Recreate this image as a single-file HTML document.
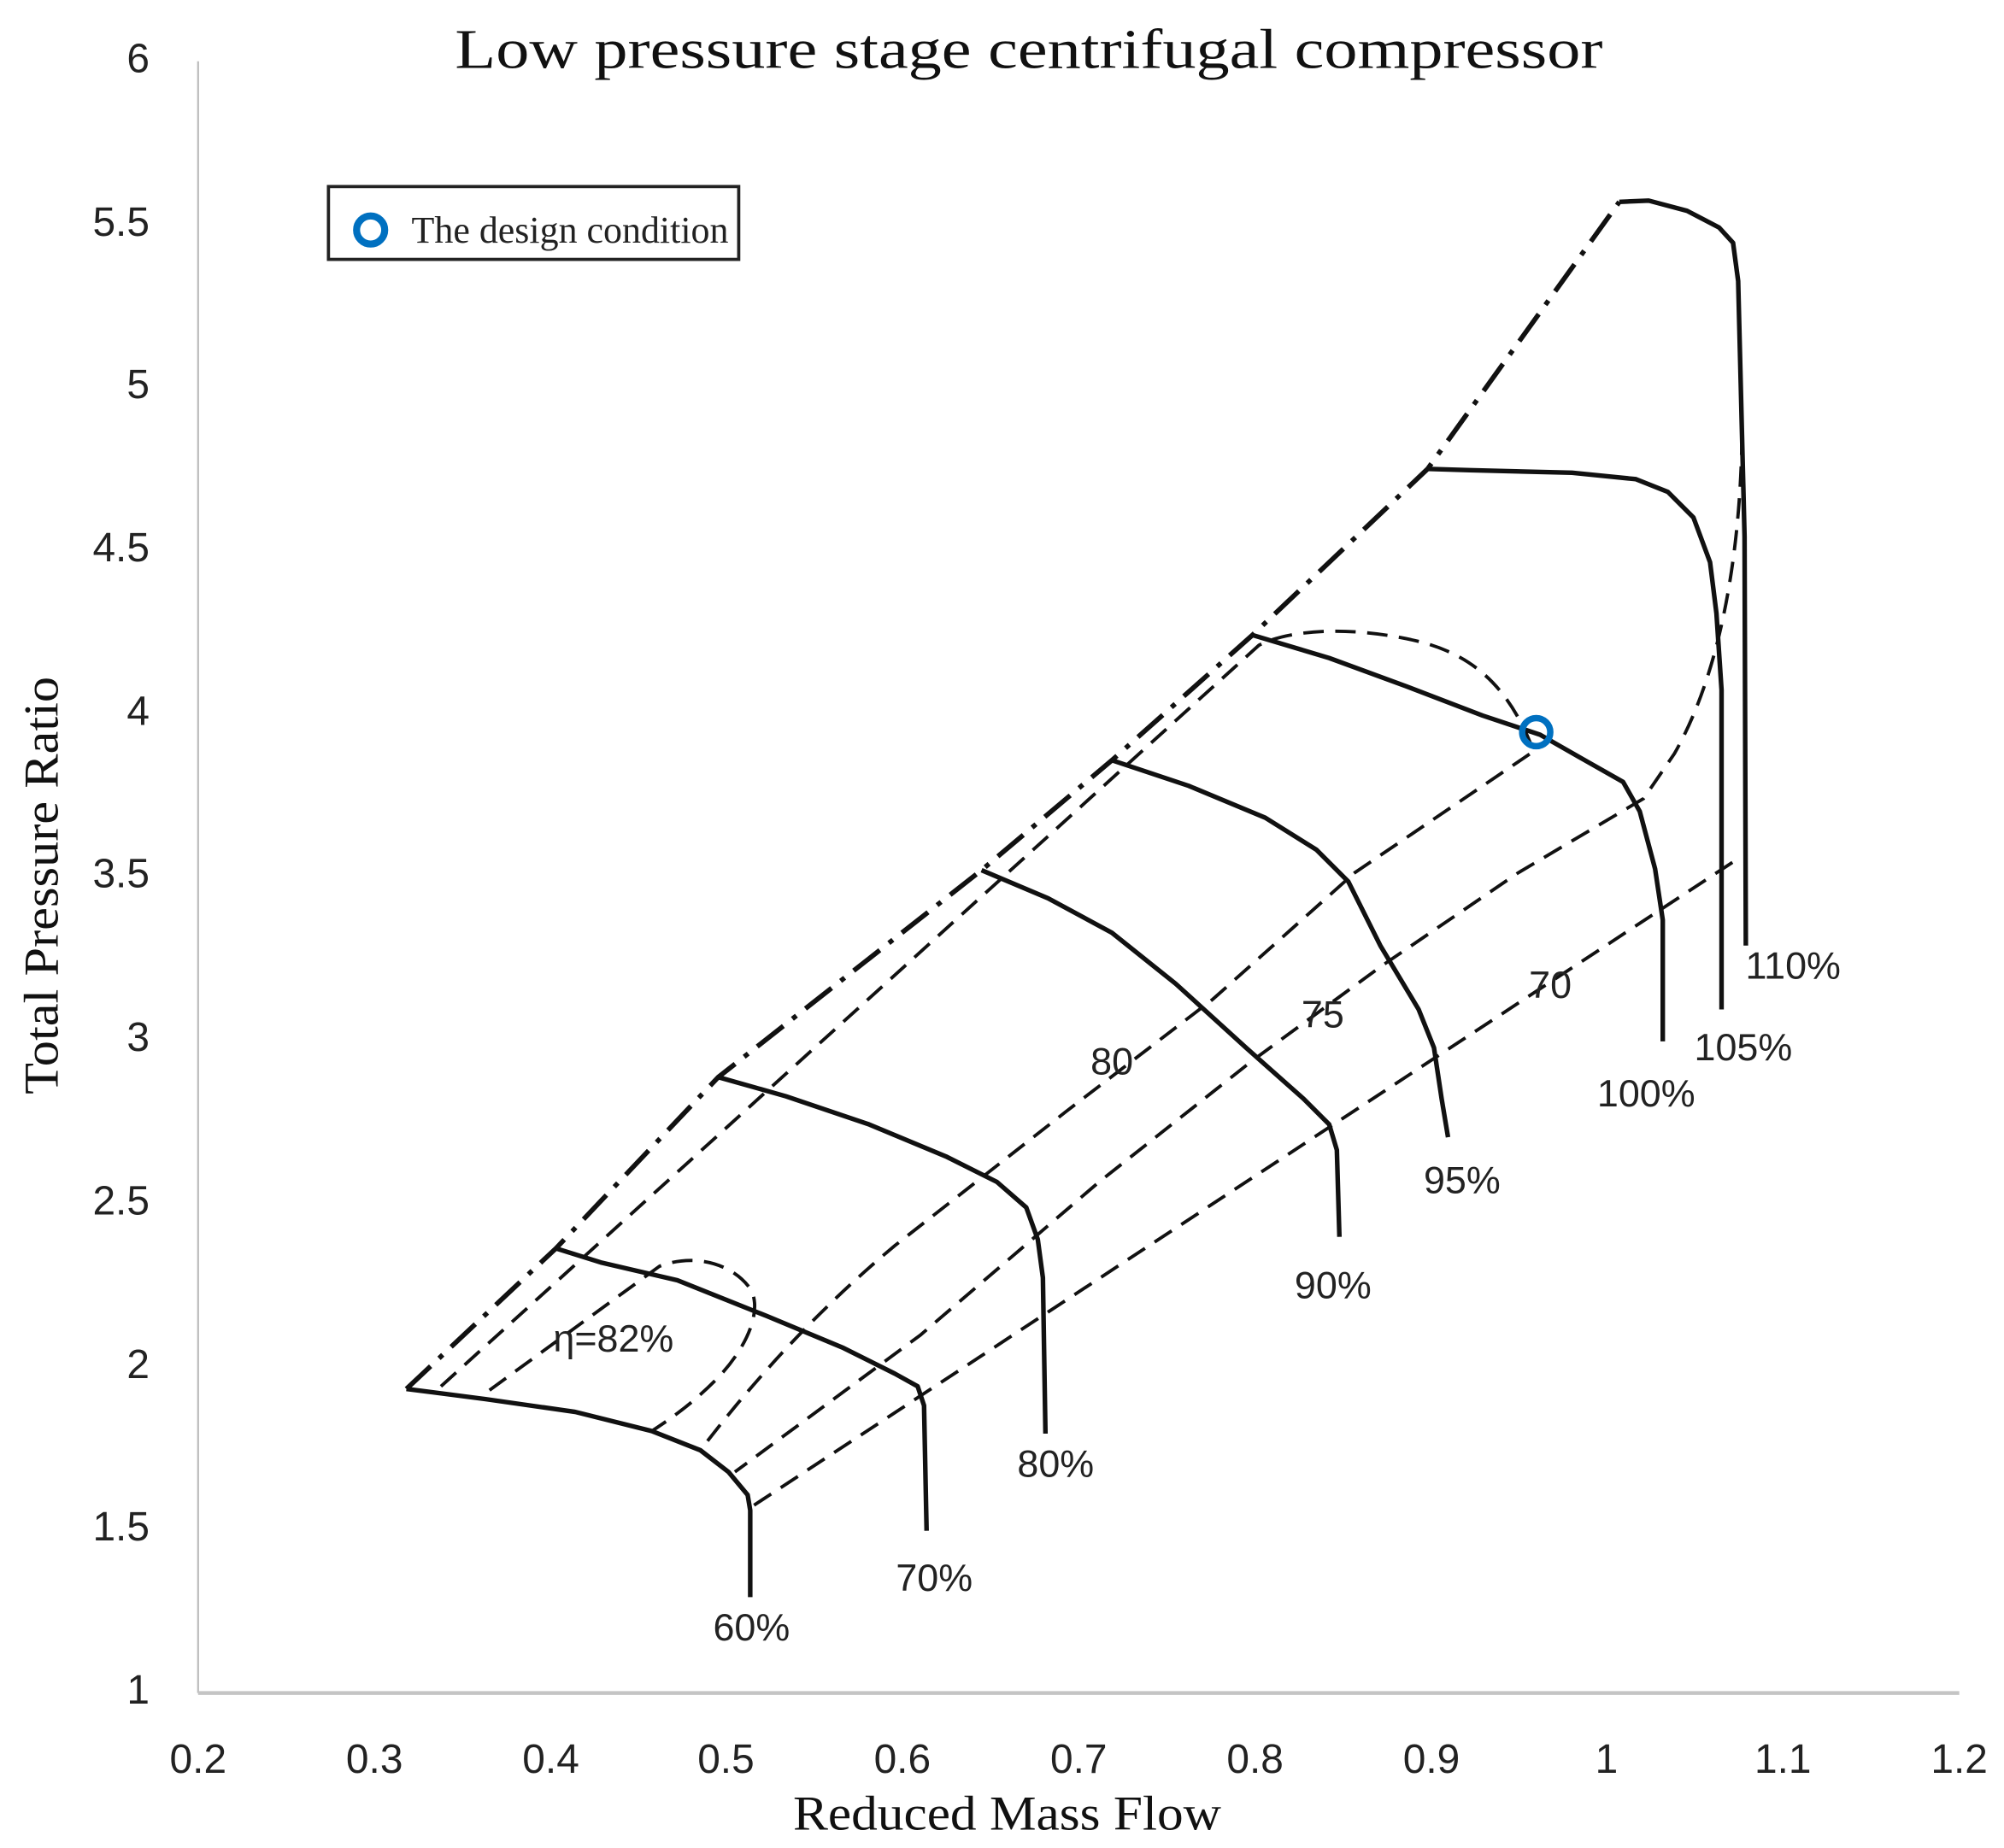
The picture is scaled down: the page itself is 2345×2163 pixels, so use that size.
<!DOCTYPE html>
<html><head><meta charset="utf-8"><style>
html,body{margin:0;padding:0;background:#fff;}
svg{display:block;}
</style></head><body>
<svg width="2345" height="2163" viewBox="0 0 1568 1446.3" preserveAspectRatio="none" xmlns="http://www.w3.org/2000/svg">
<rect x="0" y="0" width="1568" height="1447" fill="#fff"/>
<!-- axes -->
<line x1="155" y1="48" x2="155" y2="1325" stroke="#bdbdbd" stroke-width="1.5"/>
<line x1="155" y1="1325" x2="1533" y2="1325" stroke="#c4c4c4" stroke-width="3"/>
<!-- title -->
<text x="805" y="53" font-family="Liberation Serif, serif" font-size="44" fill="#111" text-anchor="middle" textLength="898" lengthAdjust="spacingAndGlyphs">Low pressure stage centrifugal compressor</text>
<!-- y ticks -->
<g font-family="Liberation Sans, sans-serif" font-size="32" fill="#222" text-anchor="end" dominant-baseline="middle">
<text x="117" y="48">6</text><text x="117" y="176">5.5</text><text x="117" y="303">5</text><text x="117" y="431">4.5</text><text x="117" y="559">4</text><text x="117" y="686">3.5</text><text x="117" y="814">3</text><text x="117" y="942">2.5</text><text x="117" y="1070">2</text><text x="117" y="1197">1.5</text><text x="117" y="1325">1</text>
</g>
<g font-family="Liberation Sans, sans-serif" font-size="32" fill="#222" text-anchor="middle" dominant-baseline="middle">
<text x="155" y="1379">0.2</text><text x="293" y="1379">0.3</text><text x="431" y="1379">0.4</text><text x="568" y="1379">0.5</text><text x="706" y="1379">0.6</text><text x="844" y="1379">0.7</text><text x="982" y="1379">0.8</text><text x="1120" y="1379">0.9</text><text x="1257" y="1379">1</text><text x="1395" y="1379">1.1</text><text x="1533" y="1379">1.2</text>
</g>
<text x="788" y="1432" font-family="Liberation Serif, serif" font-size="38" fill="#111" text-anchor="middle" textLength="335" lengthAdjust="spacingAndGlyphs">Reduced Mass Flow</text>
<text transform="translate(45,693) rotate(-90)" font-family="Liberation Serif, serif" font-size="38" fill="#111" text-anchor="middle" textLength="327" lengthAdjust="spacingAndGlyphs">Total Pressure Ratio</text>
<!-- legend -->
<rect x="257" y="146" width="321" height="57" fill="#fff" stroke="#222" stroke-width="2.5"/>
<circle cx="290" cy="180" r="11" fill="none" stroke="#0070c0" stroke-width="5.5"/>
<text x="322" y="190" font-family="Liberation Serif, serif" font-size="30" fill="#222" textLength="248" lengthAdjust="spacingAndGlyphs">The design condition</text>
<!-- surge line -->
<polyline fill="none" stroke="#111" stroke-width="3.8" stroke-dasharray="26 9 4 9" points="318,1087 435,977 562,843 768,681 870,595 980,497 1117,367 1267,158"/>
<!-- efficiency dashed lines -->
<g fill="none" stroke="#111" stroke-width="2.6" stroke-dasharray="16 9">
<path d="M345,1085 L985,505 C1010,492 1060,490 1110,502 C1150,512 1180,535 1200,588 L1060,683 L949,782 L834,870 L700,975 C640,1025 590,1080 548,1135"/>
<path d="M383,1088 L516,991 C545,980 575,990 588,1010 C597,1030 580,1060 560,1080 C540,1100 525,1110 510,1120"/>
<path d="M1363,340 C1362,420 1350,520 1310,590 L1286,625 L1188,683 L1081,756 L980,830 L860,925 L720,1045 L575,1152"/>
<path d="M590,1178 L1360,672"/>
</g>
<!-- speed lines -->
<g fill="none" stroke="#111" stroke-width="3.6" stroke-linejoin="round">
<polyline points="318,1087 380,1095 450,1105 510,1120 548,1135 570,1152 585,1170 587,1182 587,1250"/>
<polyline points="435,977 470,988 530,1002 600,1030 660,1055 700,1075 718,1085 723,1100 725,1198"/>
<polyline points="562,843 615,858 680,880 740,905 780,925 803,945 812,970 816,1000 818,1122"/>
<polyline points="768,681 820,703 870,730 920,770 975,820 1020,860 1040,880 1046,900 1048,968"/>
<polyline points="870,595 930,615 990,640 1030,665 1055,690 1080,740 1110,790 1122,820 1128,860 1133,890"/>
<polyline points="980,497 1040,515 1100,537 1160,560 1205,575 1240,595 1270,612 1283,635 1295,680 1301,720 1301,815"/>
<polyline points="1117,367 1150,368 1230,370 1280,375 1305,385 1325,405 1338,440 1343,480 1347,540 1347,790"/>
<polyline points="1267,158 1290,157 1320,165 1345,178 1356,190 1360,220 1362,300 1365,420 1366,740"/>
</g>
<circle cx="1202" cy="573" r="11" fill="none" stroke="#0070c0" stroke-width="5"/>
<!-- labels -->
<g font-family="Liberation Sans, sans-serif" font-size="30" fill="#222" text-anchor="middle" dominant-baseline="middle">
<text x="1403" y="758">110%</text><text x="1364" y="822">105%</text><text x="1288" y="858">100%</text><text x="1144" y="926">95%</text><text x="1043" y="1008">90%</text><text x="826" y="1148">80%</text><text x="731" y="1237">70%</text><text x="588" y="1276">60%</text>
<text x="1213" y="773">70</text><text x="1035" y="796">75</text><text x="870" y="833">80</text><text x="480" y="1050">η=82%</text>
</g>
</svg>
</body></html>
